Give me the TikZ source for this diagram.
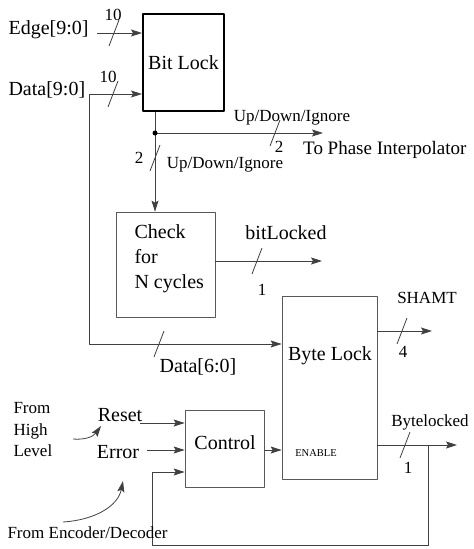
\documentclass[tikz,border=0pt]{standalone}
\usepackage{fontspec}
\setmainfont{Liberation Serif}
\usetikzlibrary{arrows.meta}
\begin{document}
\begin{tikzpicture}[x=1pt, y=-1pt, line join=round, >={Stealth[length=11pt,width=7pt,inset=2pt]}, font=\fontsize{20}{25}\selectfont]
	\tikzset{
		box/.style={draw=black!65, line width=.7pt, inner sep=0pt},
		wire/.style={draw=black!75, line width=.8pt},
		lbl/.style={font=\fontsize{17}{21.5}\selectfont},
		num/.style={lbl, inner sep=1pt},
	}
	\useasboundingbox (0,0) rectangle (474,549);
	% blocks
	\node[box, draw=black, line width=2pt, minimum width=81pt, minimum height=97pt] (bitlock) at (183.5,62.5) {Bit Lock};
	\node[box, minimum width=99pt, minimum height=105pt] (check) at (165.5,264.5) {};
	\node[anchor=west, align=left] (checktxt) at (131,259) {Check\\for\\N cycles};
	\node[box, minimum width=95pt, minimum height=183pt] (bytelock) at (329.5,387.5) {};
	\node (bytelocktxt) at (330,356) {Byte Lock};
	\node[font=\fontsize{10.5}{12}\selectfont] (enable) at (316,453) {ENABLE};
	\node[box, minimum width=79pt, minimum height=77pt] (control) at (224.5,448.5) {};
	\node (controltxt) at (225,443) {Control};
	% points
	\coordinate (edgein) at (97,33);
	\coordinate (datain) at (89,94);
	\coordinate (split) at (155,133);
	\coordinate (phase) at (323,133);
	\coordinate (lockout) at (322,261);
	\coordinate (datacorner) at (89,344);
	\coordinate (shamtout) at (432,331);
	\coordinate (bytelockedout) at (457,445);
	\coordinate (tap) at (428,445);
	\coordinate (fbr) at (428,545);
	\coordinate (fbl) at (152,545);
	\coordinate (fbup) at (152,472);
	\coordinate (resetin) at (140,423);
	\coordinate (errorin) at (147,450);
	\coordinate (enin) at (264,450);
	% wires
	\draw[wire,->] (edgein) -- (edgein -| bitlock.west);
	\draw[wire,->] (datain) -- (datain -| bitlock.west);
	\draw[wire,->] (datain) -- (datacorner) -- (datacorner -| bytelock.west);
	\draw[wire] (bitlock.south -| split) -- (split);
	\draw[wire,->] (split) -- (split |- check.north);
	\draw[wire,->] (split) -- (phase);
	\fill (split) circle (2.5pt);
	\draw[wire,->] (check.east |- lockout) -- (lockout);
	\draw[wire,->] (bytelock.east |- shamtout) -- (shamtout);
	\draw[wire,->] (bytelock.east |- bytelockedout) -- (bytelockedout);
	\draw[wire,->] (tap) -- (fbr) -- (fbl) -- (fbup) -- (fbup -| control.west);
	\draw[wire,->] (resetin) -- (resetin -| control.west);
	\draw[wire,->] (errorin) -- (errorin -| control.west);
	\draw[wire,->] (enin) -- (enin -| bytelock.west);
	% bus widths
	\foreach \sx/\sy in {114/33, 113/94, 275/133, 155/158, 257/261, 159/344, 402/331, 405/445}
		\draw[wire] (\sx-5,\sy+13) -- (\sx+5,\sy-13);
	\node[num] (wedge) at (113,15) {10};
	\node[num] (wdata) at (108,77) {10};
	\node[num] (wphase) at (279,147) {2};
	\node[num] (wcheck) at (139,158) {2};
	\node[num] (wlock) at (262,290) {1};
	\node[num] (wshamt) at (403,352) {4};
	\node[num] (wbyte) at (408,468) {1};
	% labels
	\node[anchor=west] (edgetxt) at (5,30) {Edge[9:0]};
	\node[anchor=west] (datatxt) at (5,90) {Data[9:0]};
	\node[lbl] (udi) at (292,118) {Up/Down/Ignore};
	\node[lbl, inner sep=1pt] (udilow) at (225,165) {Up/Down/Ignore};
	\node[anchor=west, inner sep=1pt, font=\fontsize{19}{22}\selectfont] (phasetxt) at (302,150) {To Phase Interpolator};
	\node (bitlocked) at (286,233) {bitLocked};
	\node (datalow) at (198,367) {Data[6:0]};
	\node[lbl] (shamt) at (427,298) {SHAMT};
	\node[lbl] (bytelocked) at (430,422) {Bytelocked};
	\node (reset) at (120,415) {Reset};
	\node (error) at (118,452) {Error};
	\node[lbl, anchor=west, align=left] (highlvl) at (10,430) {From\\High\\Level};
	\node[lbl, anchor=west] (encdec) at (4,533) {From Encoder/Decoder};
	% curved pointers
	\coordinate (hlstart) at (73,439);
	\coordinate (hlend) at (101,426);
	\draw[wire,->] (hlstart) .. controls (84,440) and (93,437) .. (hlend);
	\coordinate (edstart) at (63,522);
	\coordinate (edend) at (123,481);
	\draw[wire,->] (edstart) .. controls (95,520) and (118,506) .. (edend);
\end{tikzpicture}
\end{document}
